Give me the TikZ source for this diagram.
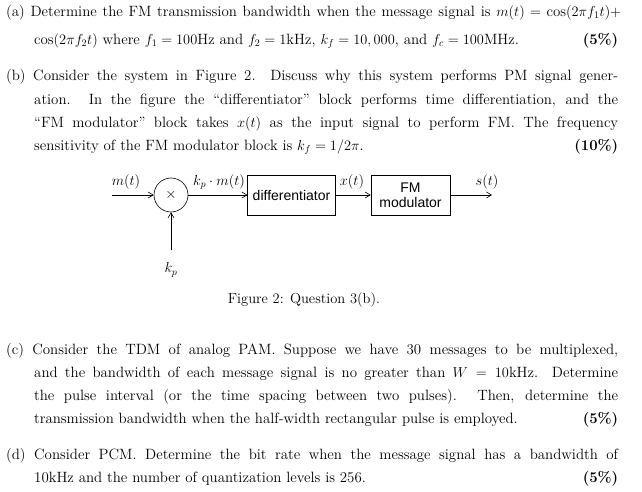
\documentclass[tikz,border=0pt]{standalone}
\usepackage{fontspec}
\newfontfamily\arialf{Liberation Sans}
\usetikzlibrary{arrows.meta}
\newcommand{\Ln}[4]{\node[anchor=west,inner sep=0pt] at (#1,#2) {\hbox to #3pt{#4}};}
\begin{document}
\begin{tikzpicture}[x=1pt,y=-1pt,
  blk/.style={draw,line width=0.6pt,minimum width=87pt,minimum height=40pt,font=\arialf\fontsize{14}{15}\selectfont,align=center},
  ar/.style={-{Straight Barb[length=5pt,width=6pt]},line width=0.6pt},
  lab/.style={font=\fontsize{14.5}{16}\selectfont}]
\useasboundingbox (0,0) rectangle (642,492);
\fontsize{14.9}{17}\selectfont
\Ln{6}{13}{615}{(a)\ Determine the FM transmission bandwidth when the message signal is $m(t)=\cos(2\pi f_1t)+$}
\Ln{34}{41}{584}{$\cos(2\pi f_2t)$ where $f_1=100$Hz and $f_2=1$kHz, $k_f=10,000$, and $f_c=100$MHz.\hfill\textbf{(5\%)}}
\Ln{6}{77}{612}{(b)\ Consider the system in Figure 2. Discuss why this system performs PM signal gener-}
\Ln{34}{101}{584}{ation. In the figure the ``differentiator'' block performs time differentiation, and the}
\Ln{34}{124}{584}{``FM modulator'' block takes $x(t)$ as the input signal to perform FM. The frequency}
\Ln{34}{147}{584}{sensitivity of the FM modulator block is $k_f=1/2\pi$.\hfill\textbf{(10\%)}}
% diagram
\node[draw,circle,minimum size=34pt,inner sep=0pt,line width=0.6pt] (mul) at (171,195) {$\times$};
\node[blk] (d) at (291.5,195) {differentiator};
\node[blk,minimum width=79pt] (fm) at (410.5,195) {FM\\modulator};
\coordinate (in) at (112,195);
\coordinate (out) at (492,195);
\coordinate (kin) at (171,250);
\draw[ar] (in) -- (mul);
\draw[ar] (kin) -- (mul);
\draw[ar] (mul) -- (d);
\draw[ar] (d) -- (fm);
\draw[ar] (fm) -- (out);
\node[lab] (lm) at (126,182) {$m(t)$};
\node[lab] (lk) at (219,182) {$k_p\cdot m(t)$};
\node[lab] (lx) at (352,182) {$x(t)$};
\node[lab] (ls) at (487,182) {$s(t)$};
\node[lab] (lkp) at (171,270) {$k_p$};
\node[lab] (cap) at (304,300) {Figure 2: Question 3(b).};
\Ln{6}{351}{612}{(c)\ Consider the TDM of analog PAM. Suppose we have 30 messages to be multiplexed,}
\Ln{34}{374}{584}{and the bandwidth of each message signal is no greater than $W=10$kHz. Determine}
\Ln{34}{397}{584}{the pulse interval (or the time spacing between two pulses). Then, determine the}
\Ln{34}{420}{584}{transmission bandwidth when the half-width rectangular pulse is employed.\hfill\textbf{(5\%)}}
\Ln{6}{456}{612}{(d)\ Consider PCM. Determine the bit rate when the message signal has a bandwidth of}
\Ln{34}{479}{584}{10kHz and the number of quantization levels is 256.\hfill\textbf{(5\%)}}
\end{tikzpicture}
\end{document}
